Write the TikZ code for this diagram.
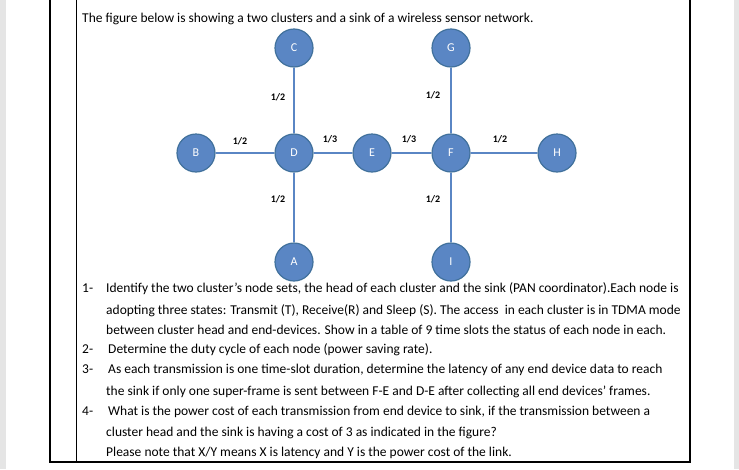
\documentclass[tikz,border=0pt]{standalone}
\usepackage{fontspec}
\setmainfont{Carlito}
\begin{document}
\begin{tikzpicture}[x=1pt,y=-1pt,
  nd/.style={circle,draw=c2,fill=c1,line width=1.2pt,minimum size=38pt,inner sep=0pt,text=white,font=\fontsize{12}{14}\selectfont},
  ln/.style={draw=c1,line width=2.5pt},
  lb/.style={font=\bfseries\fontsize{10}{12}\selectfont},
  tx/.style={anchor=base west,font=\fontsize{13.5}{16}\selectfont,inner sep=0pt}]
\definecolor{c1}{HTML}{5A86C4}
\definecolor{c2}{HTML}{41719C}
\useasboundingbox (0,0) rectangle (739,469);
\fill[gray!20] (0,0) rectangle (6,469);
\fill[gray!20] (734,0) rectangle (739,469);
\draw[line width=1.2pt] (50,-2) -- (50,462) -- (690,462) -- (690,-2);
\draw[line width=0.6pt] (76,-2) -- (76,462);
\draw[line width=2pt] (50,462) -- (76,462);
\node[tx] (t0) at (82,22) {The figure below is showing a two clusters and a sink of a wireless sensor network.};
\node[nd] (C) at (294,48) {C};
\node[nd] (G) at (451,48) {G};
\node[nd] (B) at (196,153) {B};
\node[nd] (D) at (294,153) {D};
\node[nd] (E) at (372,153) {E};
\node[nd] (F) at (451,153) {F};
\node[nd] (H) at (557,153) {H};
\node[nd] (A) at (294,262) {A};
\node[nd] (I) at (451,262) {I};
\draw[ln] (C) -- (D); \draw[ln] (G) -- (F);
\draw[ln] (B) -- (D); \draw[ln] (D) -- (E); \draw[ln] (E) -- (F); \draw[ln] (F) -- (H);
\draw[ln] (D) -- (A); \draw[ln] (F) -- (I);
\node[lb] (l1) at (278,97) {1/2};
\node[lb] (l2) at (433,95) {1/2};
\node[lb] (l3) at (240,141) {1/2};
\node[lb] (l4) at (330,139) {1/3};
\node[lb] (l5) at (409,139) {1/3};
\node[lb] (l6) at (500,139) {1/2};
\node[lb] (l7) at (278,199) {1/2};
\node[lb] (l8) at (433,199) {1/2};
\node[tx] (n1) at (82,292) {1-};
\node[tx] (s1) at (106,292) {Identify the two cluster's node sets, the head of each cluster and the sink (PAN coordinator).Each node is};
\node[tx] (s1b) at (106,314) {adopting three states: Transmit (T), Receive(R) and Sleep (S). The access\ \ in each cluster is in TDMA mode};
\node[tx] (s1c) at (106,334) {between cluster head and end-devices. Show in a table of 9 time slots the status of each node in each.};
\node[tx] (n2) at (82,353) {2-};
\node[tx] (s2) at (108,353) {Determine the duty cycle of each node (power saving rate).};
\node[tx] (n3) at (82,373) {3-};
\node[tx] (s3) at (108,373) {As each transmission is one time-slot duration, determine the latency of any end device data to reach};
\node[tx] (s3b) at (106,395) {the sink if only one super-frame is sent between F-E and D-E after collecting all end devices' frames.};
\node[tx] (n4) at (82,415) {4-};
\node[tx] (s4) at (108,415) {What is the power cost of each transmission from end device to sink, if the transmission between a};
\node[tx] (s4b) at (106,436) {cluster head and the sink is having a cost of 3 as indicated in the figure?};
\node[tx] (s4c) at (106,456) {Please note that X/Y means X is latency and Y is the power cost of the link.};
\end{tikzpicture}
\end{document}
